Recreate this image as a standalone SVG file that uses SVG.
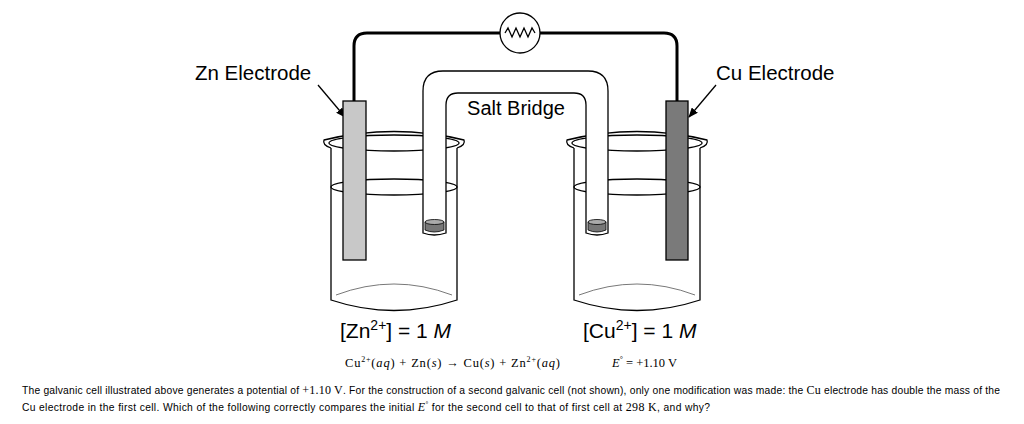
<svg xmlns="http://www.w3.org/2000/svg" width="1024" height="424" viewBox="0 0 1024 424">
<style>
.l{fill:none;stroke:#000;stroke-width:1.3}
.t{font-family:"Liberation Sans",Arial,sans-serif;fill:#000}
.s{font-family:"Liberation Serif","Times New Roman",serif;fill:#000}
</style>
<defs>
<marker id="ah" markerWidth="10" markerHeight="8" refX="9" refY="4" orient="auto" markerUnits="userSpaceOnUse"><path d="M0,0 L10,4 L0,8 Z" fill="#000"/></marker>
<g id="beaker">
<path class="l" d="M-63,5 L-63,157 Q0,178 63,157 L63,5"/>
<path class="l" d="M-63,5 Q-72,2 -70,-3 Q0,-20 70,-3 Q72,2 63,5"/>
<ellipse class="l" cx="0" cy="0" rx="65" ry="8"/>
<ellipse class="l" cx="0" cy="44" rx="63" ry="8"/>
<path fill="none" stroke="#555" stroke-width="0.8" d="M-58,152 Q0,130 58,152"/>
</g>
</defs>
<g id="left-beaker"><use href="#beaker" x="394" y="143"/></g>
<g id="right-beaker"><use href="#beaker" x="637" y="143"/></g>
<g id="connectors">
<path d="M354,101 L354,46 Q354,33 367,33 L500,33 M540,33 L664,33 Q677,33 677,46 L677,101" fill="none" stroke="#000" stroke-width="3"/>
<line x1="318" y1="85" x2="345" y2="117" stroke="#000" stroke-width="1.3" marker-end="url(#ah)"/>
<line x1="716" y1="85" x2="689" y2="117" stroke="#000" stroke-width="1.3" marker-end="url(#ah)"/>
</g>
<g id="resistor">
<circle cx="520" cy="33" r="20" fill="#fff" stroke="#000" stroke-width="1.3"/>
<path d="M505,33 L508,28 L512,37 L516,28 L520,37 L524,28 L528,37 L532,28 L535,33" fill="none" stroke="#000" stroke-width="1.3"/>
</g>
<g id="salt-bridge">
<path d="M423,233 L423,91 Q423,71 443,71 L588,71 Q608,71 608,91 L608,233 Q597,237 586,233 L586,105 Q586,93 574,93 L458,93 Q446,93 446,105 L446,233 Q434,237 423,233 Z" fill="#fff" stroke="#000" stroke-width="1.3"/>
<text class="t" x="516" y="115" font-size="20" text-anchor="middle">Salt Bridge</text>
<g fill="#777" stroke="#000" stroke-width="0.8">
<path d="M425,222 L425,230 Q434,234 444,230 L444,222 Z"/><ellipse cx="434.5" cy="222" rx="9.5" ry="2.5" fill="#aaa"/>
<path d="M588,222 L588,230 Q597,234 606,230 L606,222 Z"/><ellipse cx="597" cy="222" rx="9" ry="2.5" fill="#aaa"/>
</g>
</g>
<g id="zn-electrode">
<rect x="343" y="101" width="23" height="159" fill="#c8c8c8" stroke="#000" stroke-width="1.3"/>
<text class="t" x="195" y="80" font-size="20.5">Zn Electrode</text>
</g>
<g id="cu-electrode">
<rect x="666" y="101" width="22" height="159" fill="#7a7a7a" stroke="#000" stroke-width="1.3"/>
<text class="t" x="716" y="80" font-size="20.5">Cu Electrode</text>
</g>
<g id="labels">
<text class="t" x="340" y="338" font-size="21">[Zn<tspan font-size="14" dy="-8">2+</tspan><tspan dy="8">] = 1 </tspan><tspan font-style="italic">M</tspan></text>
<text class="t" x="583" y="338" font-size="21">[Cu<tspan font-size="14" dy="-8">2+</tspan><tspan dy="8">] = 1 </tspan><tspan font-style="italic">M</tspan></text>
<text class="s" x="345" y="367" font-size="12.5" fill="#333" textLength="215">Cu<tspan font-size="8" dy="-5">2+</tspan><tspan dy="5">(</tspan><tspan font-style="italic">aq</tspan>) + Zn(<tspan font-style="italic">s</tspan>) → Cu(<tspan font-style="italic">s</tspan>) + Zn<tspan font-size="8" dy="-5">2+</tspan><tspan dy="5">(</tspan><tspan font-style="italic">aq</tspan>)</text>
<text class="s" x="612" y="367" font-size="12.5" fill="#333"><tspan font-style="italic">E</tspan><tspan font-size="8" dy="-5">°</tspan><tspan dy="5"> = +1.10 V</tspan></text>
<text class="t" x="22" y="394" font-size="10.3" textLength="978">The galvanic cell illustrated above generates a potential of <tspan class="s" font-size="12">+1.10 V</tspan>. For the construction of a second galvanic cell (not shown), only one modification was made: the <tspan class="s" font-size="12">Cu</tspan> electrode has double the mass of the</text>
<text class="t" x="22" y="411" font-size="10.3" textLength="688">Cu electrode in the first cell. Which of the following correctly compares the initial <tspan class="s" font-style="italic" font-size="12">E</tspan><tspan font-size="7" dy="-4">°</tspan><tspan dy="4"> for the second cell to that of first cell at </tspan><tspan class="s" font-size="12">298 K</tspan>, and why?</text>
</g>
</svg>
